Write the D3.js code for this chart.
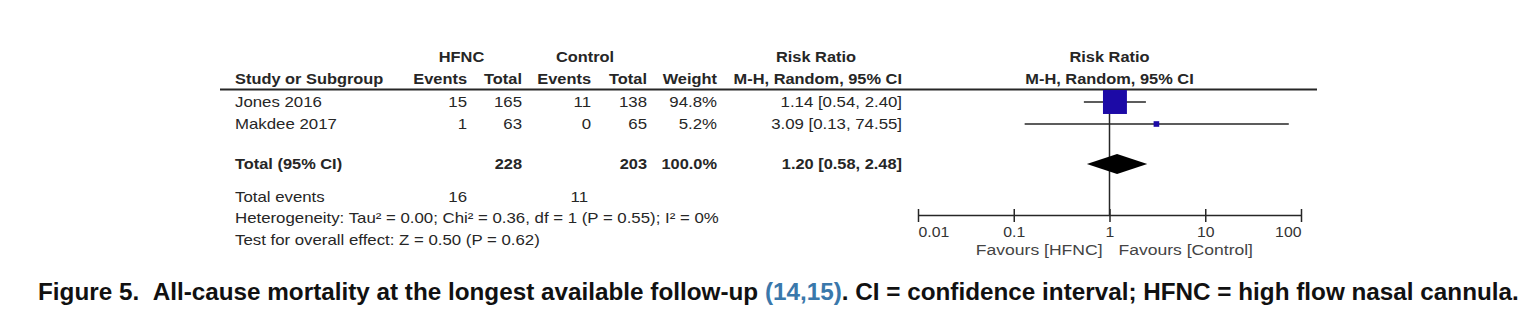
<!DOCTYPE html>
<html>
<head>
<meta charset="utf-8">
<script src="https://cdn.jsdelivr.net/npm/d3@7"></script>
<style>
  html, body { margin: 0; padding: 0; background: #fff; }
  svg { display: block; }
  text { font-family: "Liberation Sans", Arial, sans-serif; }
</style>
</head>
<body>
<svg id="chart" width="1536" height="335"></svg>
<script>
// Study-level data
const studies     = ["Jones 2016", "Makdee 2017"];
const hfncEvents  = [15, 1];
const hfncTotal   = [165, 63];
const ctrlEvents  = [11, 0];
const ctrlTotal   = [138, 65];
const weights     = [94.8, 5.2];
const riskRatio   = [1.14, 3.09];
const ciLow       = [0.54, 0.13];
const ciHigh      = [2.40, 74.55];

// Pooled results
const totalParticipants = [228, 203];
const totalEventCounts  = [16, 11];
const totalWeight       = 100.0;
const pooledRR          = [1.20, 0.58, 2.48]; // estimate, lower, upper

const axisTicks = [0.01, 0.1, 1, 10, 100];

const heterogeneityText = "Heterogeneity: Tau\u00B2 = 0.00; Chi\u00B2 = 0.36, df = 1 (P = 0.55); I\u00B2 = 0%";
const overallEffectText = "Test for overall effect: Z = 0.50 (P = 0.62)";

const svg = d3.select("#chart");
const ink = "#262626";
const fs = 14.5;
const sxBold = 1.13, sxReg = 1.16;

// Column layout (right edges of numeric columns)
const col = {
  study: 235,
  hEv: 467, hTot: 522, cEv: 591, cTot: 647, weight: 717, rr: 902,
};

const rowY = [107, 129];   // text baselines of study rows
const rowMid = [102, 124]; // centre lines of study rows
const totalY = 169, totalMid = 164;

const x = d3.scaleLog().domain([0.01, 100]).range([918, 1301]);
const boxSide = d3.scaleSqrt().domain([0, 100]).range([0, 24.6]);

const fmt2 = d3.format(".2f");
const fmtW = d3.format(".1f");

// Text drawn with a slight horizontal stretch to get the wide table face
function txt(g, xPos, y, s, anchor, bold, color, size, sx) {
  const stretch = sx || (bold ? sxBold : sxReg);
  return g.append("text")
    .attr("transform", `translate(${xPos},${y}) scale(${stretch},1)`)
    .attr("text-anchor", anchor || "start")
    .attr("font-size", size || fs)
    .attr("font-weight", bold ? "bold" : "normal")
    .attr("fill", color || ink)
    .text(s);
}

const table = svg.append("g");

// Header rows
txt(table, 461.5, 62, "HFNC", "middle", true);
txt(table, 585, 62, "Control", "middle", true);
txt(table, 816, 62, "Risk Ratio", "middle", true);
txt(table, col.study, 84, "Study or Subgroup", "start", true);
txt(table, col.hEv, 84, "Events", "end", true);
txt(table, col.hTot, 84, "Total", "end", true);
txt(table, col.cEv, 84, "Events", "end", true);
txt(table, col.cTot, 84, "Total", "end", true);
txt(table, col.weight, 84, "Weight", "end", true);
txt(table, col.rr, 84, "M-H, Random, 95% CI", "end", true);

// Forest plot header
txt(table, x(1), 62, "Risk Ratio", "middle", true);
txt(table, x(1), 84, "M-H, Random, 95% CI", "middle", true);

// Header rule
svg.append("line")
  .attr("x1", 220).attr("x2", 1317).attr("y1", 89.5).attr("y2", 89.5)
  .attr("stroke", ink).attr("stroke-width", 2);

// Study rows
studies.forEach((s, i) => {
  const y = rowY[i];
  txt(table, col.study, y, s, "start");
  txt(table, col.hEv, y, hfncEvents[i], "end");
  txt(table, col.hTot, y, hfncTotal[i], "end");
  txt(table, col.cEv, y, ctrlEvents[i], "end");
  txt(table, col.cTot, y, ctrlTotal[i], "end");
  txt(table, col.weight, y, fmtW(weights[i]) + "%", "end");
  txt(table, col.rr, y, `${fmt2(riskRatio[i])} [${fmt2(ciLow[i])}, ${fmt2(ciHigh[i])}]`, "end");
});

// Total row
txt(table, col.study, totalY, "Total (95% CI)", "start", true);
txt(table, col.hTot, totalY, totalParticipants[0], "end", true);
txt(table, col.cTot, totalY, totalParticipants[1], "end", true);
txt(table, col.weight, totalY, fmtW(totalWeight) + "%", "end", true);
txt(table, col.rr, totalY, `${fmt2(pooledRR[0])} [${fmt2(pooledRR[1])}, ${fmt2(pooledRR[2])}]`, "end", true);

txt(table, col.study, 202, "Total events", "start");
txt(table, col.hEv, 202, totalEventCounts[0], "end");
txt(table, col.cEv - 3, 202, totalEventCounts[1], "end");
txt(table, col.study, 223, heterogeneityText, "start");
txt(table, col.study, 245, overallEffectText, "start");

// Forest plot
const plot = svg.append("g");
const axisY = 215;

// Line of no effect
plot.append("line")
  .attr("x1", x(1)).attr("x2", x(1))
  .attr("y1", 90).attr("y2", axisY)
  .attr("stroke", ink).attr("stroke-width", 1.5);

// Confidence intervals and weighted boxes
studies.forEach((s, i) => {
  const y = rowMid[i];
  plot.append("line")
    .attr("x1", x(ciLow[i])).attr("x2", x(ciHigh[i]))
    .attr("y1", y).attr("y2", y)
    .attr("stroke", ink).attr("stroke-width", 1.5);
  const side = Math.max(boxSide(weights[i]), 3.5);
  plot.append("rect")
    .attr("x", x(riskRatio[i]) - side / 2)
    .attr("y", y - side / 2)
    .attr("width", side).attr("height", side)
    .attr("fill", "#1c0aa6");
});

// Pooled diamond
const dh = 10;
plot.append("path")
  .attr("d", `M${x(pooledRR[1])},${totalMid} L${x(pooledRR[0])},${totalMid - dh} L${x(pooledRR[2])},${totalMid} L${x(pooledRR[0])},${totalMid + dh} Z`)
  .attr("fill", "#000");

// Axis
const axis = d3.axisBottom(x).tickValues(axisTicks).tickFormat(d => String(d)).tickSize(0).tickPadding(0);
const ax = plot.append("g").attr("transform", `translate(0,${axisY})`).call(axis);
ax.select(".domain").attr("stroke", ink).attr("stroke-width", 1.5);
ax.selectAll(".tick line")
  .attr("y1", -6).attr("y2", 7)
  .attr("stroke", ink).attr("stroke-width", 1.5);
ax.selectAll(".tick text")
  .attr("y", null).attr("dy", null)
  .attr("transform", "translate(0,22) scale(1.13,1)")
  .attr("font-size", 14)
  .attr("font-family", "Liberation Sans, Arial, sans-serif")
  .attr("fill", "#333")
  .attr("text-anchor", (d, i) => i === 0 ? "start" : i === axisTicks.length - 1 ? "end" : "middle");

txt(plot, x(1) - 7, 255, "Favours [HFNC]", "end", false, "#444", 15, 1.17);
txt(plot, x(1) + 9, 255, "Favours [Control]", "start", false, "#444", 15, 1.17);

// Caption
const cap = svg.append("text")
  .attr("font-size", 24)
  .attr("font-weight", "bold")
  .attr("fill", "#111")
  .attr("xml:space", "preserve");
cap.append("tspan").text("Figure 5.\u00A0\u00A0All-cause mortality at the longest available follow-up ");
cap.append("tspan").attr("fill", "#3a78ab").text("(14,15)");
cap.append("tspan").text(". CI = confidence interval; HFNC = high flow nasal cannula.");
const capW = cap.node().getComputedTextLength();
const capTarget = 1482;
cap.attr("transform", `translate(38,300) scale(${capTarget / capW},1)`);
</script>
</body>
</html>
